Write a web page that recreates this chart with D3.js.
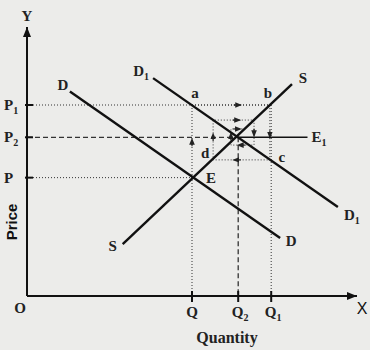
<!DOCTYPE html>
<html>
<head>
<meta charset="utf-8">
<script src="https://cdn.jsdelivr.net/npm/d3@7"></script>
<style>
  body { margin: 0; background: #ececea; }
  svg { display: block; }
  .lbl { font-family: "Liberation Serif", "Times New Roman", serif; font-weight: bold; fill: #222; }
  .sans { font-family: "Liberation Sans", Arial, sans-serif; fill: #111; }
</style>
</head>
<body>
<svg width="370" height="350"></svg>
<script>
// values (quantity 0-100, price 0-100)
var priceLevels = [71, 59, 44];            // P1, P2, P
var priceNames = ["P", "P", "P"];
var priceSubs = ["1", "2", ""];
var qtyLevels = [50, 64, 74];              // Q, Q2, Q1
var qtySubs = ["", "2", "1"];

var supplyQ = [29, 80.3], supplyP = [19.3, 78.8];
var demandQ = [13, 76.7], demandP = [76, 21.6];
var demand1Q = [38.2, 94.2], demand1P = [81, 33.1];

// adjustment path a -> b -> c -> d -> ...
var pathQ = [50, 73.6, 73.6, 56.4, 56.4, 68.8, 68.8, 61.8, 61.8, 65.5];
var pathP = [71, 71, 50.6, 50.6, 65.4, 65.4, 56.1, 56.1, 62.1, 62.1];

var svg = d3.select("svg");
var x = d3.scaleLinear().domain([0, 100]).range([27, 357]);
var y = d3.scaleLinear().domain([0, 100]).range([296, 27]);

var defs = svg.append("defs");
defs.append("marker").attr("id", "ah")
  .attr("viewBox", "0 0 10 10").attr("refX", 10).attr("refY", 5)
  .attr("markerWidth", 10).attr("markerHeight", 10)
  .attr("markerUnits", "userSpaceOnUse").attr("orient", "auto")
  .append("path").attr("d", "M0,1 L10,5 L0,9 Z").attr("fill", "#111");
defs.append("marker").attr("id", "sm")
  .attr("viewBox", "0 0 10 10").attr("refX", 5).attr("refY", 5)
  .attr("markerWidth", 7).attr("markerHeight", 7)
  .attr("markerUnits", "userSpaceOnUse").attr("orient", "auto")
  .append("path").attr("d", "M0,1 L10,5 L0,9 Z").attr("fill", "#222");

var g = svg.append("g");

// guide lines
function guide(x1, y1, x2, y2, dash, w) {
  g.append("line")
    .attr("x1", x1).attr("y1", y1).attr("x2", x2).attr("y2", y2)
    .attr("stroke", "#333").attr("stroke-width", w || 1)
    .attr("stroke-dasharray", dash);
}
// P1 to b, P to E, P2 dashed to E1
guide(x(0), y(priceLevels[0]), x(qtyLevels[2]), y(priceLevels[0]), "1,2");
guide(x(0), y(priceLevels[2]), x(qtyLevels[0]), y(priceLevels[2]), "1,2");
guide(x(0), y(priceLevels[1]), x(qtyLevels[1]), y(priceLevels[1]), "5,3", 1.3);
// verticals
guide(x(qtyLevels[0]), y(priceLevels[0]), x(qtyLevels[0]), y(0), "1,2");
guide(x(qtyLevels[2]), y(priceLevels[0]), x(qtyLevels[2]), y(0), "1,2");
guide(x(qtyLevels[1]), y(priceLevels[1]), x(qtyLevels[1]), y(0), "5,3", 1.3);

// adjustment path
var pts = pathQ.map(function(q, i) { return [x(q), y(pathP[i])]; });
g.append("path")
  .attr("d", d3.line()(pts))
  .attr("fill", "none").attr("stroke", "#333").attr("stroke-width", 1)
  .attr("stroke-dasharray", "1,2");
// small arrows along the segments
function smallArrow(x1, y1, x2, y2, t) {
  var mx = x1 + (x2 - x1) * t, my = y1 + (y2 - y1) * t;
  var dx = (x2 - x1), dy = (y2 - y1), len = Math.sqrt(dx * dx + dy * dy);
  g.append("line")
    .attr("x1", mx - dx / len * 5).attr("y1", my - dy / len * 5)
    .attr("x2", mx).attr("y2", my)
    .attr("stroke", "#222").attr("stroke-width", 1.2)
    .attr("marker-end", "url(#sm)");
}
for (var i = 0; i < pts.length - 1; i++) {
  var t = (i == 1 || i == 5) ? 0.55 : 0.6;
  smallArrow(pts[i][0], pts[i][1], pts[i + 1][0], pts[i + 1][1], t);
}
// rise from E to a along Q
smallArrow(x(qtyLevels[0]), y(priceLevels[2]), x(qtyLevels[0]), y(priceLevels[0]), 0.5);

// E1 line
g.append("line")
  .attr("x1", x(qtyLevels[1])).attr("y1", y(priceLevels[1]))
  .attr("x2", x(85)).attr("y2", y(priceLevels[1]))
  .attr("stroke", "#111").attr("stroke-width", 1.6);

// curves
function curve(qs, ps) {
  g.append("line")
    .attr("x1", x(qs[0])).attr("y1", y(ps[0]))
    .attr("x2", x(qs[1])).attr("y2", y(ps[1]))
    .attr("stroke", "#111").attr("stroke-width", 2.4);
}
curve(supplyQ, supplyP);
curve(demandQ, demandP);
curve(demand1Q, demand1P);

// axes
g.append("line").attr("x1", x(0)).attr("y1", y(0)).attr("x2", x(0)).attr("y2", y(100))
  .attr("stroke", "#111").attr("stroke-width", 2).attr("marker-end", "url(#ah)");
g.append("line").attr("x1", x(0)).attr("y1", y(0)).attr("x2", x(100)).attr("y2", y(0))
  .attr("stroke", "#111").attr("stroke-width", 2).attr("marker-end", "url(#ah)");

g.selectAll(".ytick").data(priceLevels).enter().append("line")
  .attr("x1", x(0) - 2).attr("x2", x(0) + 6)
  .attr("y1", function(d) { return y(d); }).attr("y2", function(d) { return y(d); })
  .attr("stroke", "#111").attr("stroke-width", 2);
g.selectAll(".xtick").data(qtyLevels).enter().append("line")
  .attr("y1", y(0) - 5).attr("y2", y(0) + 6)
  .attr("x1", function(d) { return x(d); }).attr("x2", function(d) { return x(d); })
  .attr("stroke", "#111").attr("stroke-width", 2);

// labels
function label(tx, ty, main, sub, anchor) {
  var t = g.append("text").attr("class", "lbl")
    .attr("x", tx).attr("y", ty).attr("font-size", 15)
    .attr("text-anchor", anchor || "middle");
  t.append("tspan").text(main);
  if (sub) t.append("tspan").attr("font-size", 10).attr("dy", 4).text(sub);
}
priceLevels.forEach(function(p, i) {
  label(4, y(p) + 5, priceNames[i], priceSubs[i], "start");
});
qtyLevels.forEach(function(q, i) {
  label(x(q) + (qtySubs[i] ? 2 : 0), y(0) + 21, "Q", qtySubs[i]);
});
label(x(0) - 7, y(0) + 17, "O");
label(x(0), y(100) - 6, "Y");

label(x(supplyQ[0]) - 10, y(supplyP[0]) + 7, "S");
label(x(supplyQ[1]) + 11, y(supplyP[1]) - 1, "S");
label(x(demandQ[0]) - 7, y(demandP[0]) - 2, "D");
label(x(demandQ[1]) + 11, y(demandP[1]) + 8, "D");
label(x(demand1Q[0]) - 12, y(demand1P[0]) - 2, "D", "1");
label(x(demand1Q[1]) + 14, y(demand1P[1]) + 13, "D", "1");
label(x(85) + 4, y(priceLevels[1]) + 5, "E", "1", "start");
label(x(qtyLevels[0]) + 19, y(priceLevels[2]) + 5, "E");
label(x(pathQ[0]) + 3, y(pathP[0]) - 7, "a");
label(x(pathQ[1]) - 2, y(pathP[1]) - 7, "b");
label(x(pathQ[2]) + 12, y(pathP[2]) + 2, "c");
label(x(pathQ[3]) - 8, y(pathP[3]) - 2, "d");

g.append("text").attr("class", "lbl")
  .attr("x", 227).attr("y", y(0) + 47).attr("font-size", 16)
  .attr("text-anchor", "middle").text("Quantity");
g.append("text").attr("class", "sans")
  .attr("transform", "translate(17,222) rotate(-90)")
  .style("font-weight", "bold").style("font-size", "15px")
  .attr("text-anchor", "middle").text("Price");
g.append("text").attr("class", "sans")
  .attr("x", x(100) + 5).attr("y", y(0) + 18)
  .style("font-size", "16px")
  .attr("text-anchor", "middle").text("X");
</script>
</body>
</html>
